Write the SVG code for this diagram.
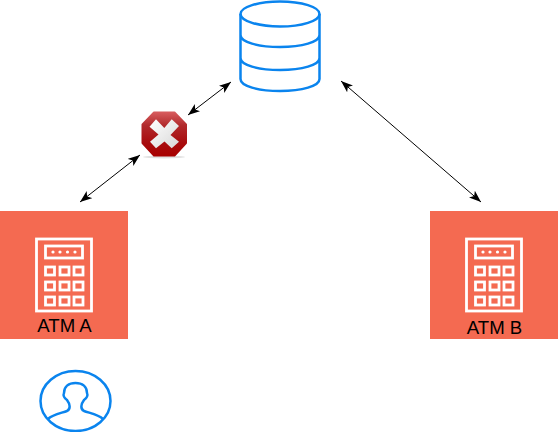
<svg xmlns="http://www.w3.org/2000/svg" width="559" height="432" viewBox="0 0 559 432">
<style>
.box{fill:#f46a51}
.w{fill:none;stroke:#fff;stroke-width:2.8}
.dot{fill:#fff}
.b{fill:none;stroke:#0a84ee;stroke-width:2.5}
.c{fill:none;stroke:#000;stroke-width:1;marker-start:url(#s);marker-end:url(#e)}
.t{font-family:"Liberation Sans",Arial,sans-serif;font-size:18.600px;fill:#000;text-anchor:middle}
</style>
<defs>
<marker id="e" markerUnits="userSpaceOnUse" markerWidth="13" markerHeight="10" refX="12" refY="5" orient="auto"><path d="M0 0.500L12 5L0 9.500L3 5Z" fill="#000"/></marker>
<marker id="s" markerUnits="userSpaceOnUse" markerWidth="13" markerHeight="10" refX="1" refY="5" orient="auto"><path d="M13 0.500L1 5L13 9.500L10 5Z" fill="#000"/></marker>
<linearGradient id="red" x1="0" y1="0" x2="0" y2="1"><stop offset="0" stop-color="#d65a5c"/><stop offset=".3" stop-color="#b12a2c"/><stop offset=".7" stop-color="#a80c0e"/><stop offset="1" stop-color="#a80000"/></linearGradient>
<linearGradient id="cross" x1="0" y1="0" x2="1" y2="1"><stop offset="0" stop-color="#fff"/><stop offset="1" stop-color="#d8d8d8"/></linearGradient>
<g id="calc">
<rect class="w" x="36.500" y="239" width="55" height="72"/>
<rect class="w" x="45.500" y="246" width="37" height="12"/>
<circle class="dot" cx="53" cy="252" r="1.600"/><circle class="dot" cx="60" cy="252" r="1.600"/><circle class="dot" cx="67.500" cy="252" r="1.600"/><circle class="dot" cx="75" cy="252" r="1.600"/>
<rect class="w" x="45.500" y="267" width="9" height="8"/><rect class="w" x="60" y="267" width="9" height="8"/><rect class="w" x="74" y="267" width="9" height="8"/>
<rect class="w" x="45.500" y="282" width="9" height="8"/><rect class="w" x="60" y="282" width="9" height="8"/><rect class="w" x="74" y="282" width="9" height="8"/>
<rect class="w" x="45.500" y="297" width="9" height="8"/><rect class="w" x="60" y="297" width="9" height="8"/><rect class="w" x="74" y="297" width="9" height="8"/>
</g>
</defs>
<g id="connectors">
<line class="c" x1="80" y1="202" x2="140" y2="155"/>
<line class="c" x1="188" y1="115" x2="231" y2="82"/>
<line class="c" x1="341" y1="81" x2="481" y2="202"/>
</g>
<g id="database">
<ellipse class="b" cx="280" cy="14" rx="39.500" ry="12.500"/>
<path class="b" d="M240.500 14V79C240.500 86 258 91 280 91S319.500 86 319.500 79V14M240.500 35C240.500 42 258 47 280 47S319.500 42 319.500 35M240.500 58C240.500 65 258 70 280 70S319.500 65 319.500 58"/>
</g>
<g id="blocked">
<ellipse cx="164" cy="157" rx="21" ry="1.500" fill="#ccc" opacity=".6"/>
<path d="M154 112.500H174.500L186 124.500V143L174.500 155.500H154L142.500 143V124.500Z" fill="url(#red)" stroke="url(#red)" stroke-width="2" stroke-linejoin="round"/>
<path d="M149.500 126.700L156 119.300L164.300 128L171.700 119.300L179 126L170.500 135L179 141.700L171.700 148.300L164.500 141.500L156 148.300L150 141.700L158.500 134.500Z" fill="url(#cross)"/>
</g>
<g id="atm-a">
<rect class="box" x="0" y="211" width="128" height="128"/>
<use href="#calc"/>
<text class="t" x="64.500" y="332">ATM A</text>
</g>
<g id="atm-b">
<rect class="box" x="430" y="211" width="128" height="128"/>
<use href="#calc" x="430"/>
<text class="t" x="494.500" y="334">ATM B</text>
</g>
<g id="user">
<ellipse class="b" cx="75.500" cy="401" rx="35" ry="30"/>
<path class="b" d="M48 419C53 414 62 413 67 411C71 409 70 404 67 400C64 398 63 395 64 393C64 386 69 383 75.500 383S87 386 87 393C88 395 87 398 84 400C81 404 80 409 84 411C89 413 98 414 103 419"/>
</g>
</svg>
